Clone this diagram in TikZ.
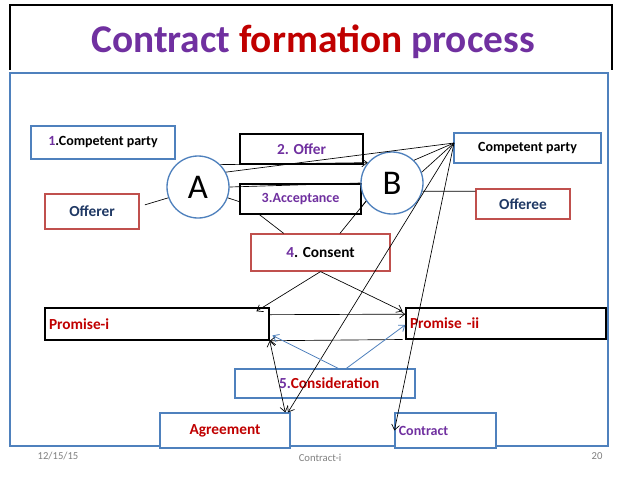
\documentclass[tikz,border=0pt]{standalone}
\usepackage{fontspec}
\setmainfont{Carlito}
\usetikzlibrary{arrows.meta}
\definecolor{bbl}{HTML}{4F81BD}
\definecolor{rbd}{HTML}{C0504D}
\definecolor{pur}{HTML}{7030A0}
\definecolor{dred}{HTML}{C00000}
\definecolor{navy}{HTML}{1F3864}
\begin{document}
\begin{tikzpicture}[x=0.75pt,y=-0.75pt,
  box/.style={draw,rectangle,inner sep=2pt,font=\bfseries\fontsize{11.5}{13}\selectfont},
  bluebox/.style={box,draw=bbl,line width=0.9pt},
  redbox/.style={box,draw=rbd,line width=0.9pt},
  blkbox/.style={box,draw=black,line width=0.9pt},
  circ/.style={circle,draw=bbl,line width=1pt,minimum size=46.5pt,inner sep=0pt,font=\fontsize{26}{28}\selectfont},
  conn/.style={black,line width=0.5pt},
  arr/.style={conn,-{Straight Barb[length=4pt,width=6pt]}},
  barr/.style={bbl,line width=0.6pt,-{Straight Barb[length=4pt,width=6pt]}},
  foot/.style={font=\fontsize{8}{9}\selectfont,text=gray}]
\useasboundingbox (0,0) rectangle (638,479);
\fill[white] (0,0) rectangle (638,479);
% frames
\draw[black,line width=0.8pt] (10,70) -- (10,5) -- (612,5) -- (612,70);
\node (title) at (313,42) {\bfseries\fontsize{29.5}{32}\selectfont\textcolor{pur}{Contract} \textcolor{dred}{formation} \textcolor{pur}{process}};
\draw[bbl,line width=1.2pt] (10,73) rectangle (608,446);
% nodes
\node[bluebox,minimum width=108pt,minimum height=24.75pt,font=\bfseries\fontsize{10.5}{12}\selectfont] (comp1) at (103,142.5) {\textcolor{pur}{1}.Competent party};
\node[blkbox,minimum width=92.25pt,minimum height=22.5pt] (offer) at (301.5,149) {\textcolor{pur}{2. Offer}};
\node[blkbox,minimum width=90.75pt,minimum height=22.5pt,font=\bfseries\fontsize{10.5}{12}\selectfont] (acc) at (300.5,199) {\textcolor{pur}{3.Acceptance}};
\node[bluebox,minimum width=110.25pt,minimum height=22.5pt,font=\bfseries\fontsize{10.5}{12}\selectfont] (comp2) at (527.5,148) {Competent party};
\node[redbox,minimum width=70.5pt,minimum height=26.25pt,text=navy] (offerer) at (92,211.5) {Offerer};
\node[redbox,minimum width=70.5pt,minimum height=22.5pt,text=navy] (offeree) at (523,204) {Offeree};
\node[redbox,minimum width=104.25pt,minimum height=27.75pt] (consent) at (320.5,252.5) {\textcolor{pur}{4}. Consent};
\node[blkbox,line width=1.1pt,minimum width=168pt,minimum height=24pt,text width=162pt,align=left,text=dred] (p1) at (157,324) {Promise-i};
\node[blkbox,line width=1.1pt,minimum width=150pt,minimum height=23.25pt,text width=144pt,align=left,text=dred] (p2) at (506,323.5) {Promise -ii};
\node[bluebox,minimum width=135pt,minimum height=21.75pt,text width=129pt,align=left,text=dred] (cons) at (325,383.5) {\hspace*{30pt}\textcolor{pur}{5.}Consideration};
\node[bluebox,fill=white,minimum width=97.5pt,minimum height=26.25pt,text=dred] (agr) at (225,430.5) {Agreement};
\node[bluebox,fill=white,minimum width=75.75pt,minimum height=26.25pt,text width=70pt,align=left,text=pur,font=\bfseries\fontsize{10.5}{12}\selectfont] (contract) at (445.5,430.5) {Contract};
\node[circ] (A) at (198,187) {A};
\node[circ] (B) at (392,183) {B};
\coordinate (cp) at (454,143);
% footer
\node[foot] (f1) at (58,456) {12/15/15};
\node[foot] (f2) at (320,458) {Contract-i};
\node[foot] (f3) at (597,456) {20};
% connectors
\draw[conn] (cp) -- (A.28);
\draw[conn] (cp) -- (B.46);
\draw[conn] (cp) -- (B.20);
\draw[arr] (cp) -- ([xshift=-2pt]agr.north east);
\draw[arr] (cp) -- (contract.west);
\draw[arr] (A.45) -- (B.140);
\draw[conn] (A.east) -- (B.west);
\draw[conn] (A.-20) -- ([yshift=-2pt]acc.west);
\draw[conn] (B.215) -- ([yshift=-6pt]acc.east);
\draw[conn] ([xshift=4pt,yshift=5pt]offerer.east) -- (A.200);
\draw[conn] (B.-15) -- (offeree.165);
\draw[conn] ([xshift=15pt]acc.south west) -- ([xshift=25pt]consent.north west);
\draw[conn] ([xshift=-38pt]consent.north east) -- (B.215);
\draw[arr] (consent.south) -- ([xshift=-10pt,yshift=-3pt]p1.north east);
\draw[arr] (consent.south) -- ([xshift=-2pt,yshift=-3pt]p2.north west);
\draw[arr] ([yshift=7pt]p1.east) -- ([yshift=7pt]p2.west);
\draw[arr] ([xshift=-2pt,yshift=-12pt]p2.west) -- (p1.south east);
\draw[barr] ([xshift=10pt]cons.north) -- ([xshift=2pt,yshift=4pt]p1.south east);
\draw[barr] ([xshift=16pt]cons.north) -- ([yshift=-1pt]p2.west);
\draw[conn,{Straight Barb[length=4pt,width=6pt]}-{Straight Barb[length=4pt,width=6pt]}] (p1.south east) -- ([xshift=-4pt]agr.north east);
\end{tikzpicture}
\end{document}
